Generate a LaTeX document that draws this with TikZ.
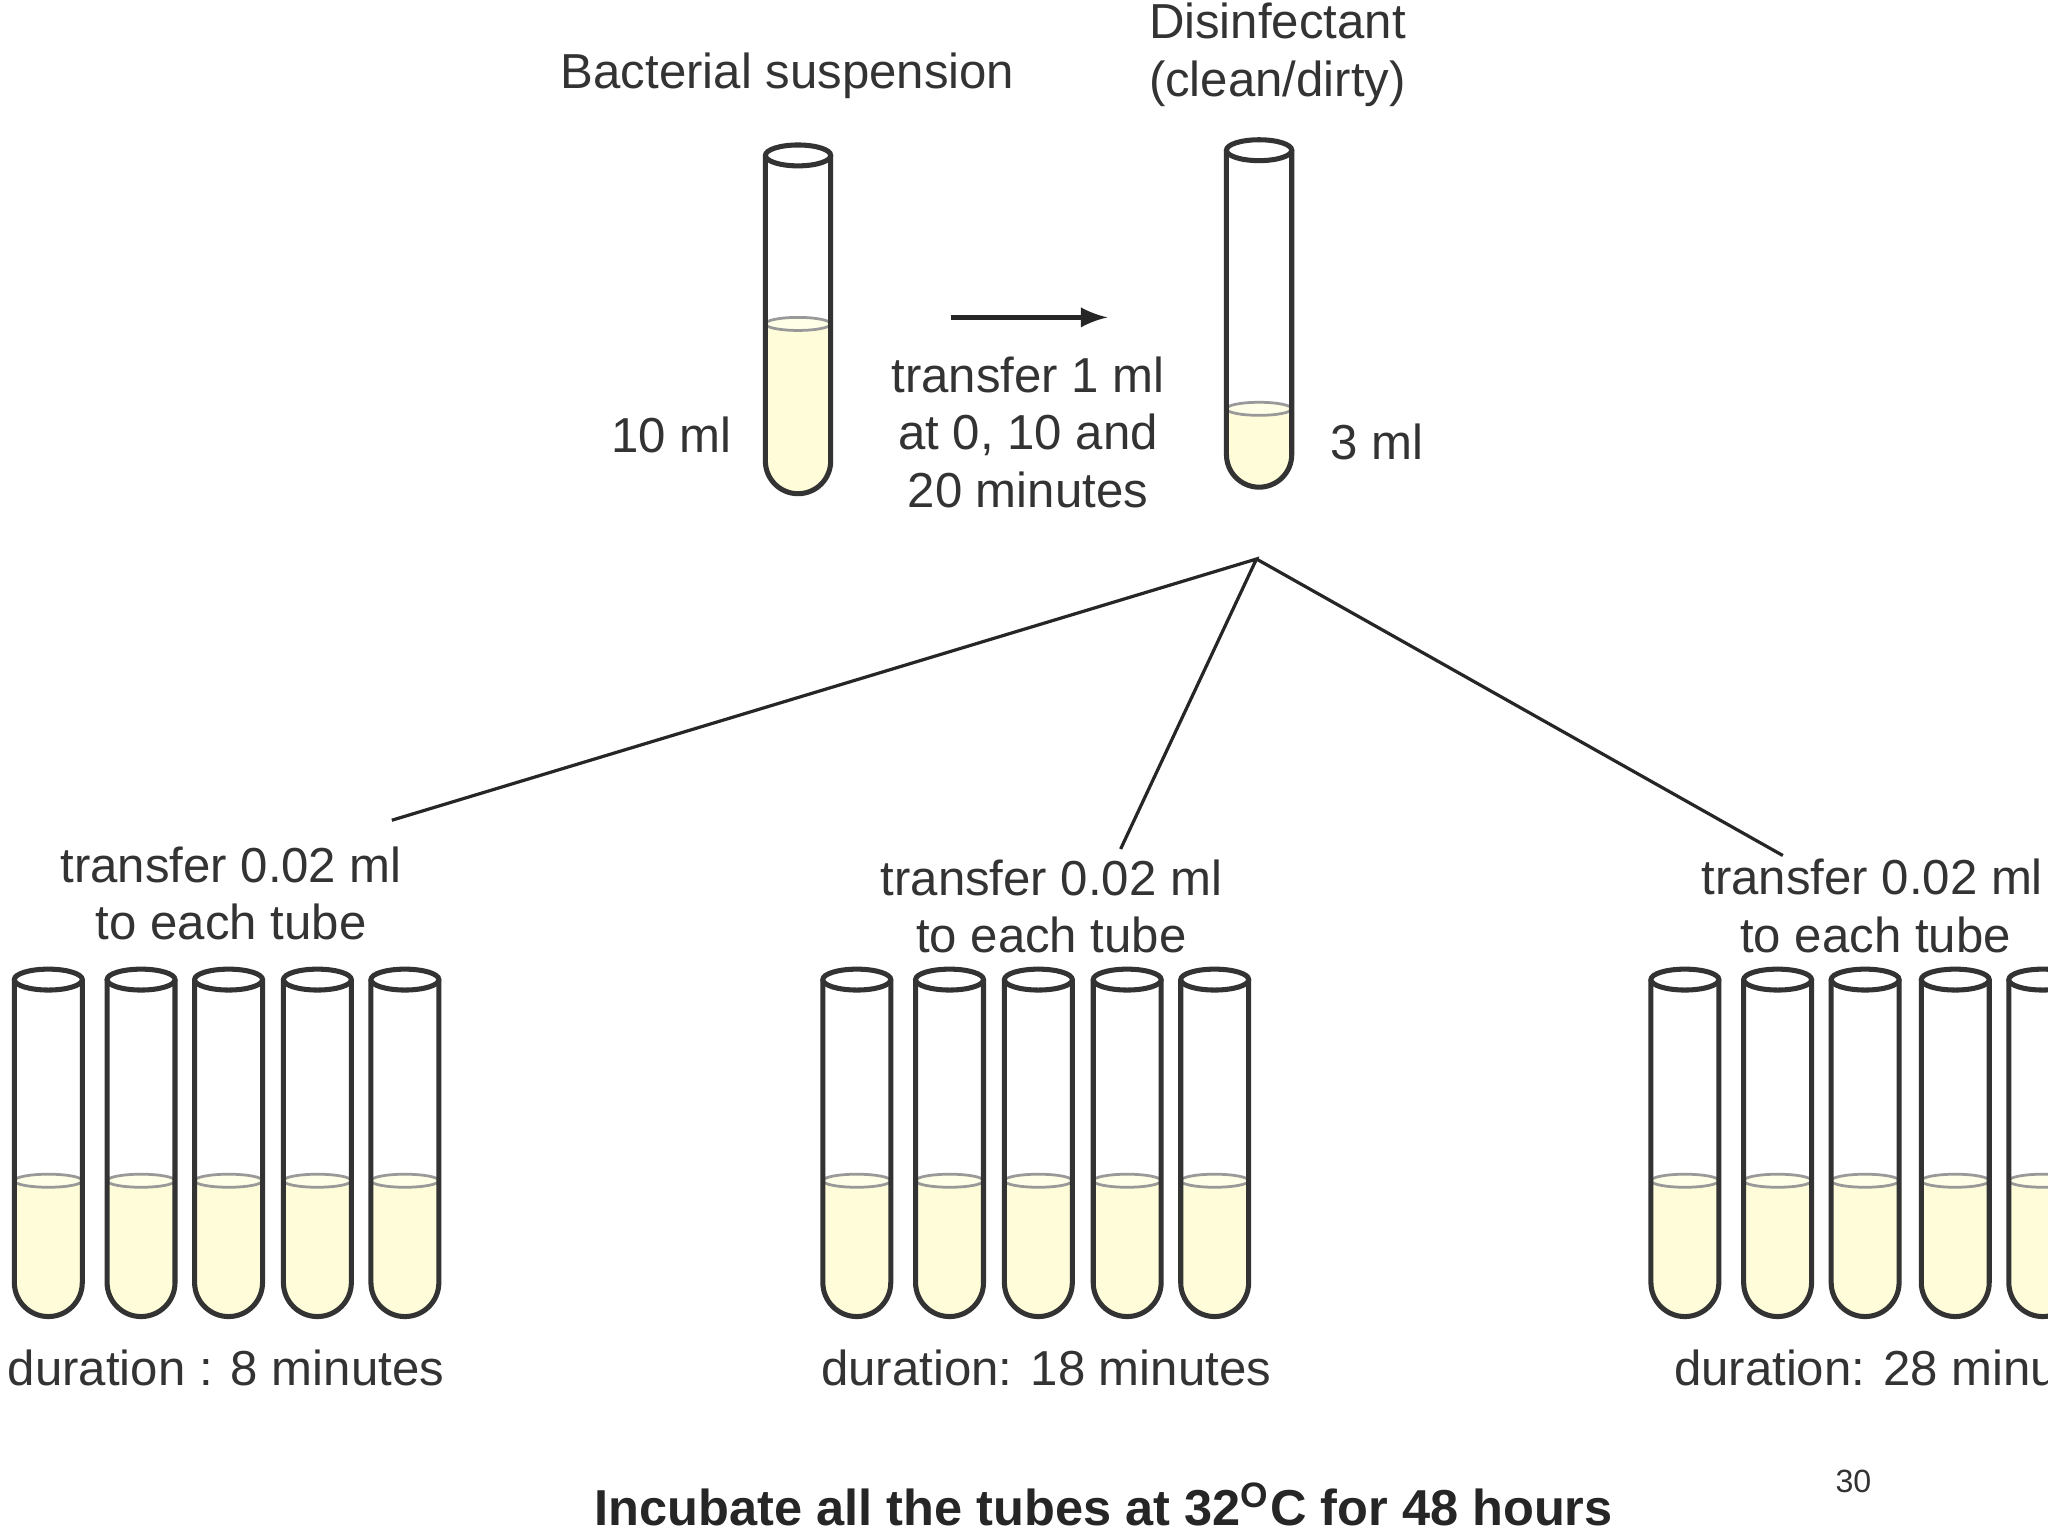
\documentclass[tikz,border=0pt]{standalone}
\usepackage{fontspec}
\setmainfont{Liberation Sans}
\begin{document}
\begin{tikzpicture}[x=0.01cm,y=-0.01cm,
  txt/.style={text=black!80,font=\fontsize{10.7}{12.6}\selectfont,align=center,inner sep=0pt},
  tubeline/.style={draw=black!80,line width=1.1pt},
  liq/.style={fill=yellow!15!white},
  conn/.style={draw=black!85,line width=0.7pt}]
\useasboundingbox (0,0) rectangle (1568,1176);
\fill[white] (0,0) rectangle (1568,1176);
\newcommand\ttube[5]{%
 \fill[liq] ({#1-#4},#5) -- ({#1-#4},{#3-#4}) arc[start angle=180,end angle=0,x radius=#4,y radius=#4] -- ({#1+#4},#5) -- cycle;
 \draw[draw=black!40,line width=0.6pt,fill=yellow!10!white] (#1,#5) ellipse[x radius=#4,y radius=5];
 \draw[tubeline] ({#1-#4},#2) -- ({#1-#4},{#3-#4}) arc[start angle=180,end angle=0,x radius=#4,y radius=#4] -- ({#1+#4},#2);
 \draw[tubeline,fill=white] (#1,#2) ellipse[x radius=#4,y radius=8];}
\ttube{611}{119}{378}{25}{248}
\ttube{964}{115}{373}{25}{313}
\foreach \c in {37,108,175,243,310,656,727,795,863,930,1290,1361,1428,1497,1564}{\ttube{\c}{750}{1008}{26}{904}}
\node[txt] (bs) at (603,58) {Bacterial suspension};
\node[txt] (dis) at (978,42) {Disinfectant\\(clean/dirty)};
\node[txt] (v10) at (514,333) {10 ml};
\node[txt] (v3) at (1054,338) {3 ml};
\node[txt] (tr) at (787,331) {transfer 1 ml\\at 0, 10 and\\20 minutes};
\coordinate (a1) at (728,243); \coordinate (a2) at (848,243);
\draw[conn,line width=1pt,-latex] (a1) -- (a2);
\coordinate (hub) at (962,428);
\coordinate (e1) at (300,628); \coordinate (e2) at (858,650); \coordinate (e3) at (1365,655);
\draw[conn] (e1) -- (hub) -- (e2); \draw[conn] (hub) -- (e3);
\node[txt] (t1) at (177,684) {transfer 0.02 ml\\to each tube};
\node[txt] (t2) at (805,694) {transfer 0.02 ml\\to each tube};
\node[txt,anchor=north west] (t3) at (1302,657) {transfer 0.02 ml};
\node[txt] (t3b) at (1436,716) {to each tube};
\node[txt] (d1) at (173,1047) {duration : 8 minutes};
\node[txt] (d2) at (801,1047) {duration: 18 minutes};
\node[txt,anchor=west] (d3) at (1281,1047) {duration: 28 minutes};
\node[txt,font=\bfseries\fontsize{11}{13}\selectfont,text=black!85] (inc) at (845,1152) {Incubate all the tubes at 32\textsuperscript{O}C for 48 hours};
\node[txt,font=\fontsize{7}{8}\selectfont] (pg) at (1419,1134) {30};
\end{tikzpicture}
\end{document}
